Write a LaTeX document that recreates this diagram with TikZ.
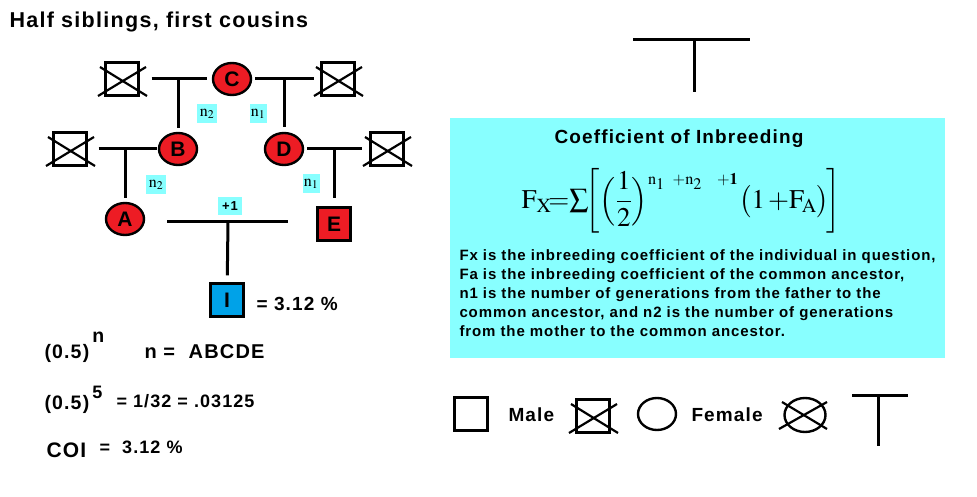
\documentclass[tikz,border=0pt]{standalone}
\usepackage{mathptmx}
\usepackage[no-math]{fontspec}
\setmainfont{Liberation Sans}[LetterSpace=6]
\usetikzlibrary{shapes.geometric,positioning}
\definecolor{pedred}{RGB}{237,28,36}
\definecolor{pedblue}{RGB}{0,162,232}
\definecolor{boxcyan}{RGB}{136,255,255}
\newcommand{\bsz}[1]{\fontsize{#1}{#1}\selectfont\bfseries}

\begin{document}
\begin{tikzpicture}[x=1pt,y=-1pt,on grid,node distance=70pt,line width=3pt,
    male/.style={draw,rectangle,line width=2.4pt,minimum size=33pt,inner sep=0pt,font=\bsz{21}},
    female/.style={draw,ellipse,line width=2.4pt,minimum width=38pt,minimum height=32pt,inner sep=0pt,font=\bsz{21}},
    affected/.style={fill=pedred},
    dead/.style={append after command={
      ([shift={(-24pt,-17pt)}]\tikzlastnode.center) edge[line width=2.2pt] ([shift={(24pt,12pt)}]\tikzlastnode.center)
      ([shift={(-22pt,12pt)}]\tikzlastnode.center) edge[line width=2.2pt] ([shift={(25pt,-17pt)}]\tikzlastnode.center)}},
    deadf/.style={append after command={
      ([shift={(-26pt,-14pt)}]\tikzlastnode.center) edge[line width=2.2pt] ([shift={(22pt,13pt)}]\tikzlastnode.center)
      ([shift={(-23pt,13pt)}]\tikzlastnode.center) edge[line width=2.2pt] ([shift={(22pt,-14pt)}]\tikzlastnode.center)}},
    gen/.style={fill=boxcyan,inner sep=1pt,minimum width=20pt,minimum height=19pt,font=\fontsize{16}{16}\selectfont},
    txt/.style={anchor=base west,inner sep=0pt}]
  \useasboundingbox (0,0) rectangle (977,497);

  \node[txt,font=\bsz{21.5}] (title) at (8,28) {Half siblings, first cousins};

  \node[female,affected] (C) at (232,79) {C};
  \node[male,dead]       (mC1) [left=110pt of C] {};
  \node[male,dead]       (mC2) [right=106pt of C] {};
  \node[female,affected] (B) [below left=70pt and 54pt of C] {B};
  \node[female,affected] (D) [below right=70pt and 52pt of C] {D};
  \node[male,dead]       (mB) [left=108pt of B] {};
  \node[male,dead]       (mD) [right=103pt of D] {};
  \node[female,affected] (A) [below left=70pt and 53pt of B] {A};
  \node[male,affected]   (E) [below right=75pt and 50pt of D] {E};
  \coordinate (sib) at (228,222);
  \node[male,fill=pedblue] (I) at (227,300) {I};

  \path (mC1) edge[shorten <=12pt,shorten >=5pt] (C)
        (C) edge[shorten <=3pt,shorten >=6pt] (mC2)
        (C -| B) edge[shorten >=4pt] (B)
        (C -| D) edge[shorten >=5pt] (D)
        (mB) edge[shorten <=11pt,shorten >=1pt] (B)
        (D) edge[shorten <=3pt,shorten >=7pt] (mD)
        (B -| A) edge[shorten >=4pt] (A)
        (D -| E) edge[shorten >=8pt] (E)
        (sib -| A.east) edge[shorten <=22pt,shorten >=28pt] (sib -| E.west)
        (sib) edge[shorten >=7pt] (I);

  \node[gen] (g1) at (207,114) {$\mathrm{n}_2$};
  \node[gen,minimum width=17pt] (g2) at (258,114) {$\mathrm{n}_1$};
  \node[gen] (g3) at (156,185) {$\mathrm{n}_2$};
  \node[gen,minimum width=17pt] (g4) at (311,184) {$\mathrm{n}_1$};
  \node[gen,minimum width=24pt,minimum height=18pt,font=\bsz{13}] (g5) at (230,206) {+1};

  \node[txt,font=\bsz{19}] (Ival) at (255,310) {= 3.12 \%};
  \node[txt,font=\bsz{19.5}] (pw1) at (43,358) {(0.5)\hspace{3pt}\raisebox{16pt}{n}};
  \node[txt,font=\bsz{20}] (ncount) at (143,358) {n = \ ABCDE};
  \node[txt,font=\bsz{19.5}] (pw2) at (43,409) {(0.5)\hspace{3pt}\raisebox{11pt}{\bsz{18}5}};
  \node[txt,font=\bsz{18}] (frac) at (115,407) {= 1/32 = .03125};
  \node[txt,font=\bsz{21}] (coilab) at (45,457) {COI};
  \node[txt,font=\bsz{18}] (coival) at (98,453) {= \ 3.12 \%};

  \node[fill=boxcyan,minimum width=495pt,minimum height=240pt,inner sep=0pt] (coi) at (697.5,238) {};
  \node[anchor=base,inner sep=0pt,font=\bsz{19}] (coititle) at (679,144) {Coefficient of Inbreeding};
  \node[anchor=base west,inner sep=0pt] (fx) at (520,208) {\fontsize{27}{32}\selectfont
    $\mathrm{F}_{\mathrm{X}}\!{=}\!\textstyle\sum\displaystyle\!\biggl[\Bigl(\frac{1}{2}\Bigr)^{\scriptscriptstyle\mathrm{n}_1\hspace{8pt}\mathbf{+}\mathrm{n}_2\hspace{15pt}\mathbf{+1}}\hspace{1pt}\bigl(1\,{+}\mathrm{F}_{\!\mathrm{A}}\bigr)\!\biggr]$};
  \node[anchor=north west,inner sep=0pt,align=left,font=\fontsize{15}{19}\selectfont\bfseries] (expl) at (458,248)
    {Fx is the inbreeding coefficient of the individual in question,\\
     Fa is the inbreeding coefficient of the common ancestor,\\
     n1 is the number of generations from the father to the\\
     common ancestor, and n2 is the number of generations\\
     from the mother to the common ancestor.};

  \node[male] (lmale) at (471,414) {};
  \node[txt,font=\bsz{19}] (lmaletxt) at (507,421) {Male};
  \node[male,dead] (ldeadm) at (593,416) {};
  \node[female] (lfemale) at (657,414) {};
  \node[txt,font=\bsz{19}] (lfemaletxt) at (690,421) {Female};
  \node[female,minimum width=41pt,minimum height=34pt,deadf] (ldeadf) at (805,415) {};

  \draw (852,395) -- (908,395) (878,395) -- (878,446);
  \draw (633,40) -- (750,40) (694,40) -- (694,92);
\end{tikzpicture}
\end{document}
